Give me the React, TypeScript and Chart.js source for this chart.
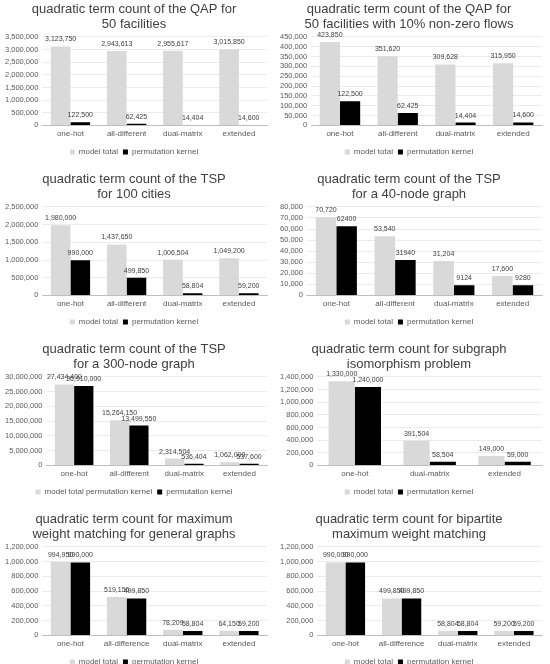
import { useEffect, useRef } from "react";
import Chart from "chart.js/auto";

const cats4 = ["one-hot", "all-different", "dual-matrix", "extended"];
const cats3 = ["one-hot", "dual-matrix", "extended"];
const catsMatch = ["one-hot", "all-difference", "dual-matrix", "extended"];

const qapTotal = [3123750, 2943613, 2955617, 3015850];
const qapKernel = [122500, 62425, 14404, 14600];
const qapSparseTotal = [423850, 351620, 309628, 315950];
const qapSparseKernel = [122500, 62425, 14404, 14600];
const tsp100Total = [1980000, 1437650, 1006504, 1049200];
const tsp100Kernel = [990000, 499850, 58804, 59200];
const tsp40Total = [70720, 53540, 31204, 17600];
const tsp40Kernel = [62400, 31940, 9124, 9280];
const tsp300Total = [27434400, 15264150, 2314504, 1062000];
const tsp300Kernel = [26910000, 13499550, 536404, 537600];
const subTotal = [1330000, 391504, 149000];
const subKernel = [1240000, 58504, 59000];
const mwmTotal = [994950, 519156, 78209, 64150];
const mwmKernel = [990000, 499850, 58804, 59200];
const bipTotal = [990000, 499850, 58804, 59200];
const bipKernel = [990000, 499850, 58804, 59200];

const panels = [
  { title: ["quadratic term count of the QAP for", "50 facilities"], cats: cats4, total: qapTotal, kernel: qapKernel, max: 3500000, step: 500000 },
  { title: ["quadratic term count of the QAP for", "50 facilities with 10% non-zero flows"], cats: cats4, total: qapSparseTotal, kernel: qapSparseKernel, max: 450000, step: 50000 },
  { title: ["quadratic term count of the TSP", "for 100 cities"], cats: cats4, total: tsp100Total, kernel: tsp100Kernel, max: 2500000, step: 500000 },
  { title: ["quadratic term count of the TSP", "for a 40-node graph"], cats: cats4, total: tsp40Total, kernel: tsp40Kernel, max: 80000, step: 10000, plainKernel: true },
  { title: ["quadratic term count of the TSP", "for a 300-node graph"], cats: cats4, total: tsp300Total, kernel: tsp300Kernel, max: 30000000, step: 5000000, totalName: "model total permutation kernel" },
  { title: ["quadratic term count for subgraph", "isomorphism problem"], cats: cats3, total: subTotal, kernel: subKernel, max: 1400000, step: 200000 },
  { title: ["quadratic term count for maximum", "weight matching for general graphs"], cats: catsMatch, total: mwmTotal, kernel: mwmKernel, max: 1200000, step: 200000 },
  { title: ["quadratic term count for bipartite", "maximum weight matching"], cats: catsMatch, total: bipTotal, kernel: bipKernel, max: 1200000, step: 200000 },
];

const TITLE_FONT = "'Liberation Sans', Arial, sans-serif";
const FONT = "'Liberation Sans Narrow', 'Liberation Sans', sans-serif";

// value labels above each bar
const valueLabels = {
  id: "valueLabels",
  afterDatasetsDraw(chart: any) {
    const ctx = chart.ctx;
    ctx.save();
    ctx.font = `7px ${FONT}`;
    ctx.fillStyle = "#404040";
    ctx.textAlign = "center";
    ctx.textBaseline = "middle";
    chart.data.datasets.forEach((ds: any, i: number) => {
      chart.getDatasetMeta(i).data.forEach((bar: any, j: number) => {
        const v = ds.data[j];
        const text = ds.plain ? String(v) : v.toLocaleString("en-US");
        ctx.fillText(text, bar.x, bar.y - 7);
      });
    });
    ctx.restore();
  },
};

const Panel = ({ p }: { p: any }) => {
  const chartRef = useRef<HTMLCanvasElement>(null);

  useEffect(() => {
    if (!chartRef.current) return;
    const chartInstance = new Chart(chartRef.current, {
      type: "bar",
      data: {
        labels: p.cats,
        datasets: [
          { label: p.totalName || "model total", data: p.total, backgroundColor: "#d9d9d9" },
          { label: "permutation kernel", data: p.kernel, backgroundColor: "#000000", plain: p.plainKernel } as any,
        ],
      },
      options: {
        animation: false,
        responsive: true,
        maintainAspectRatio: false,
        layout: { padding: { left: 1, right: 8, top: 2, bottom: 0 } },
        datasets: { bar: { categoryPercentage: 0.7, barPercentage: 1 } },
        plugins: {
          title: {
            display: true,
            text: p.title,
            color: "#404040",
            font: { family: TITLE_FONT, size: 13, weight: "normal", lineHeight: 1.15 },
            padding: { top: 0, bottom: 5 },
          },
          legend: {
            position: "bottom",
            labels: {
              boxWidth: 5,
              boxHeight: 5,
              padding: 5,
              color: "#595959",
              font: { family: FONT, size: 8 },
            },
          },
          tooltip: { enabled: false },
        },
        scales: {
          x: {
            grid: { display: false, drawTicks: false },
            border: { color: "#bfbfbf" },
            ticks: { color: "#595959", font: { family: FONT, size: 8 }, padding: 4 },
          },
          y: {
            min: 0,
            max: p.max,
            grid: { color: "#e3e3e3", lineWidth: 0.7, drawTicks: false },
            border: { display: false },
            ticks: {
              stepSize: p.step,
              autoSkip: false,
              color: "#595959",
              font: { family: FONT, size: 7.5 },
              padding: 4,
              callback: (v: any) => Number(v).toLocaleString("en-US"),
            },
          },
        },
      },
      plugins: [valueLabels],
    });

    return () => {
      chartInstance.destroy();
    };
  }, [p]);

  return <canvas ref={chartRef} />;
};

export default function App() {
  return (
    <div style={{ position: "fixed", left: 0, top: 0, width: 550, height: 664, overflow: "hidden", background: "#fff" }}>
      {panels.map((p, i) => (
        <div
          key={i}
          style={{
            position: "absolute",
            left: (i % 2) * 275,
            top: Math.floor(i / 2) * 170,
            width: 275,
            height: 166,
          }}
        >
          <Panel p={p} />
        </div>
      ))}
    </div>
  );
}
